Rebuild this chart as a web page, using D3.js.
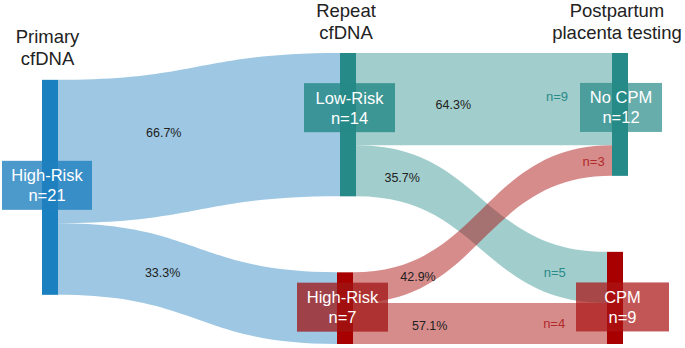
<!DOCTYPE html>
<html>
<head>
<meta charset="utf-8">
<script src="https://cdn.jsdelivr.net/npm/d3@7"></script>
<style>
  body { margin: 0; background: #fff; }
  svg { font-family: "Liberation Sans", Arial, sans-serif; }
</style>
</head>
<body>
<div id="chart"></div>
<script>
// Data
// ============================================================================
const nodeNames = ["High-Risk", "Low-Risk", "High-Risk", "No CPM", "CPM"];
const nodeCounts = [21, 14, 7, 12, 9];
const nodeColumns = [0, 1, 1, 2, 2];
const columnTitles = [["Primary", "cfDNA"], ["Repeat", "cfDNA"], ["Postpartum", "placenta testing"]];

const linkSources = [0, 0, 1, 1, 2, 2];
const linkTargets = [1, 2, 3, 4, 3, 4];
const linkValues = [14, 7, 9, 5, 3, 4];
const linkPercents = ["66.7%", "33.3%", "64.3%", "35.7%", "42.9%", "57.1%"];

// Layout / style
// ============================================================================
const width = 685, height = 348,
    yTop = 53, yBottom = 344, nodePad = 76, nodeWidth = 16,
    columnX = [42, 338, 609];

const nodeNudge = [0, 2, -1, 3, -2];               // small x shifts per node
const boxLayout = [                                  // label box offsets from node centre
    {dx: -3, dy: -2, w: 90},
    {dx: 1.5, dy: -17, w: 91},
    {dx: -2.5, dy: -1, w: 91},
    {dx: 1, dy: -7, w: 82},
    {dx: 7.5, dy: 9, w: 93},
];
const pctLayout = [                                  // fraction along link, y offset
    {u: 0.375, dy: -11}, {u: 0.375, dy: 1}, {u: 0.38, dy: 6},
    {u: 0.184, dy: 1.5}, {u: 0.251, dy: 3}, {u: 0.302, dy: 2.5},
];
const countLayout = [null, null, {u: 0.785, dy: -3}, {u: 0.792, dy: 3}, {u: 0.929, dy: 0}, {u: 0.792, dy: 0}];

const nodeColor = ["#1b80bf", "#268a88", "#a80000", "#268a88", "#a80000"];
const boxColor = ["rgba(31,127,191,0.8)", "rgba(38,138,136,0.82)", "rgba(160,20,20,0.75)", "rgba(38,138,136,0.7)", "rgba(170,20,20,0.72)"];
const linkColor = ["rgba(31,127,191,0.44)", "rgba(31,127,191,0.44)", "rgba(38,140,137,0.43)", "rgba(38,140,137,0.43)", "rgba(170,10,10,0.47)", "rgba(170,10,10,0.47)"];
const countColor = [null, null, "#2a8a88", "#2a8a88", "#b02a2a", "#b02a2a"];

// Build nodes & links
// ============================================================================
const total = d3.max(nodeCounts);
const hScale = d3.scaleLinear()
    .domain([0, total])
    .range([0, (yBottom - yTop) - nodePad]);

const nodes = nodeNames.map((name, i) => ({
    i, name, count: nodeCounts[i], col: nodeColumns[i],
    x0: columnX[nodeColumns[i]] + nodeNudge[i],
    h: hScale(nodeCounts[i]),
    out: [], in: [],
}));
nodes.forEach(n => n.x1 = n.x0 + nodeWidth);

const links = linkSources.map((s, i) => ({
    i, source: nodes[s], target: nodes[linkTargets[i]], value: linkValues[i],
    w: hScale(linkValues[i]),
}));
links.forEach(l => { l.source.out.push(l); l.target.in.push(l); });

// Stack multi-node columns, then centre lone nodes on their neighbours
const columns = d3.groups(nodes, d => d.col).map(d => d[1]);
columns.forEach(col => {
    if (col.length > 1) {
        const gap = (yBottom - yTop - d3.sum(col, d => d.h)) / (col.length - 1);
        let y = yTop;
        col.forEach(n => { n.y0 = y; y += n.h + gap; });
    }
});
columns.forEach(col => {
    if (col.length === 1) {
        const n = col[0];
        const c = d3.sum(n.out, l => (l.target.y0 + l.target.h / 2) * l.value) / d3.sum(n.out, l => l.value);
        n.y0 = c - n.h / 2 + 1.5;
    }
});
nodes.forEach(n => n.y1 = n.y0 + n.h);

// Link slots within each node
nodes.forEach(n => {
    let y = n.y0;
    n.out.sort((a, b) => a.target.y0 - b.target.y0).forEach(l => { l.sy0 = y; y += l.w; l.sy1 = y; });
    y = n.y0;
    n.in.sort((a, b) => a.source.y0 - b.source.y0).forEach(l => { l.ty0 = y; y += l.w; l.ty1 = y; });
});

// Point on link centre line at x-fraction u
function linkPoint(l, u) {
    const x0 = l.source.x1, x1 = l.target.x0;
    const fx = t => 1.5 * t - 1.5 * t * t + t * t * t;
    let lo = 0, hi = 1;
    for (let k = 0; k < 30; k++) {
        const m = (lo + hi) / 2;
        if (fx(m) < u) lo = m; else hi = m;
    }
    const t = (lo + hi) / 2, g = 3 * t * t - 2 * t * t * t;
    const yA = (l.sy0 + l.sy1) / 2, yB = (l.ty0 + l.ty1) / 2;
    return [x0 + (x1 - x0) * u, yA + (yB - yA) * g];
}

function linkPath(l) {
    const x0 = l.source.x1, x1 = l.target.x0, xm = (x0 + x1) / 2;
    return `M${x0},${l.sy0}C${xm},${l.sy0} ${xm},${l.ty0} ${x1},${l.ty0}` +
        `L${x1},${l.ty1}C${xm},${l.ty1} ${xm},${l.sy1} ${x0},${l.sy1}Z`;
}

// Plot
// ============================================================================
const svg = d3.select("#chart")
    .append("svg")
        .attr("width", width)
        .attr("height", height);

// Links
svg.append("g")
    .selectAll("path")
    .data(links)
    .enter()
    .append("path")
        .attr("d", linkPath)
        .attr("fill", d => linkColor[d.i]);

// Nodes
svg.append("g")
    .selectAll("rect")
    .data(nodes)
    .enter()
    .append("rect")
        .attr("x", d => d.x0)
        .attr("y", d => d.y0)
        .attr("width", nodeWidth)
        .attr("height", d => d.h)
        .attr("fill", d => nodeColor[d.i]);

// Percent labels
svg.append("g")
    .selectAll("text")
    .data(links)
    .enter()
    .append("text")
        .attr("x", d => linkPoint(d, pctLayout[d.i].u)[0])
        .attr("y", d => linkPoint(d, pctLayout[d.i].u)[1] + pctLayout[d.i].dy)
        .attr("text-anchor", "middle")
        .attr("dominant-baseline", "central")
        .attr("font-size", 12.5)
        .attr("fill", "#222")
        .text(d => linkPercents[d.i]);

// Count labels near targets
svg.append("g")
    .selectAll("text")
    .data(links.filter(d => countLayout[d.i]))
    .enter()
    .append("text")
        .attr("x", d => linkPoint(d, countLayout[d.i].u)[0])
        .attr("y", d => linkPoint(d, countLayout[d.i].u)[1] + countLayout[d.i].dy)
        .attr("text-anchor", "middle")
        .attr("dominant-baseline", "central")
        .attr("font-size", 13)
        .attr("fill", d => countColor[d.i])
        .text(d => "n=" + d.value);

// Node label boxes
const boxH = 49;
const box = svg.append("g")
    .selectAll("g")
    .data(nodes)
    .enter()
    .append("g")
        .attr("transform", d => {
            const cx = (d.x0 + d.x1) / 2 + boxLayout[d.i].dx,
                cy = (d.y0 + d.y1) / 2 + boxLayout[d.i].dy;
            return "translate(" + cx + "," + cy + ")";
        });

box.append("rect")
    .attr("x", d => -boxLayout[d.i].w / 2)
    .attr("y", -boxH / 2)
    .attr("width", d => boxLayout[d.i].w)
    .attr("height", boxH)
    .attr("fill", d => boxColor[d.i]);

box.append("text")
    .attr("text-anchor", "middle")
    .attr("font-size", 16.5)
    .attr("fill", "#fff")
    .attr("y", -4)
    .text(d => d.name);

box.append("text")
    .attr("text-anchor", "middle")
    .attr("font-size", 16.5)
    .attr("fill", "#fff")
    .attr("y", 16)
    .text(d => "n=" + d.count);

// Column titles
columns.forEach((col, c) => {
    const topNode = d3.least(col, d => d.y0);
    const cx = columnX[c] + nodeWidth / 2,
        base = topNode.y0 - 14.5;
    columnTitles[c].forEach((line, j) => {
        svg.append("text")
            .attr("x", cx - (c === 0 ? 2.5 : 0))
            .attr("y", base - (columnTitles[c].length - 1 - j) * 22)
            .attr("text-anchor", "middle")
            .attr("font-size", 18.5)
            .attr("fill", "#222")
            .text(line);
    });
});
</script>
</body>
</html>
